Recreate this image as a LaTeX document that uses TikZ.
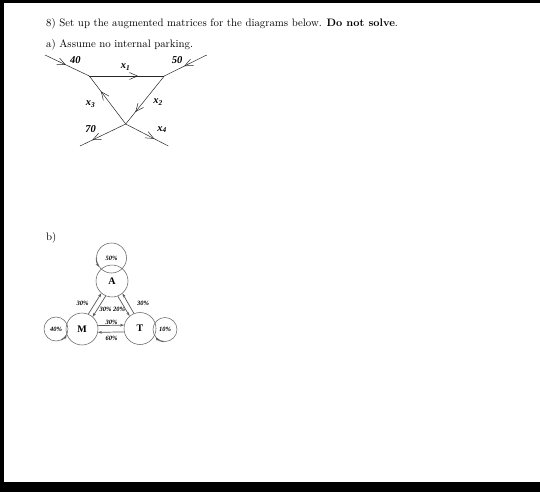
\documentclass[tikz,border=0pt]{standalone}
\usepackage{fontspec}
\newfontfamily\tms{Liberation Serif}
\usetikzlibrary{arrows.meta,decorations.markings}
\begin{document}
\begin{tikzpicture}[x=1pt,y=-1pt,
  midarr/.style={postaction={decorate},decoration={markings,mark=at position #1 with {\arrow{Straight Barb[length=8pt,width=7pt,line width=0.5pt]}}}},
  flow/.style={line width=0.5pt,draw=black!85},
  lbl/.style={font=\tms\bfseries\itshape\fontsize{10.5}{12}\selectfont,inner sep=0pt},
  pct/.style={font=\tms\bfseries\itshape\fontsize{6.5}{7}\selectfont,inner sep=0pt},
  state/.style={circle,draw=black!60,line width=0.55pt,minimum size=32pt,inner sep=0pt,font=\tms\bfseries\fontsize{10}{12}\selectfont},
  loopc/.style={circle,draw=black!60,line width=0.55pt,inner sep=0pt,font=\tms\bfseries\itshape\fontsize{6.5}{7}\selectfont},
  barr/.style={draw=black!65,line width=0.7pt,-{Stealth[length=4pt,width=2.8pt]}}]
\useasboundingbox (0,0) rectangle (540,492);
\fill[white] (0,0) rectangle (540,492);
\fill[black] (0,0) rectangle (540,3);
\fill[black] (0,0) rectangle (4,492);
\fill[black] (0,482) rectangle (540,492);
% texts
\node[anchor=base west,inner sep=0pt,font=\fontsize{10.8}{12}\selectfont] (title) at (46,26.5) {8) Set up the augmented matrices for the diagrams below. \textbf{Do not solve}.};
\node[anchor=base west,inner sep=0pt,font=\fontsize{10.8}{12}\selectfont] (parta) at (46,48) {a) Assume no internal parking.};
\node[anchor=base west,inner sep=0pt,font=\fontsize{10.8}{12}\selectfont] (partb) at (46,240) {b)};
% diagram a
\coordinate (L) at (89.3,76);
\coordinate (R) at (164.3,76);
\coordinate (B) at (125.7,124);
\coordinate (i40) at (45,55);
\coordinate (i50) at (206.7,55);
\coordinate (o70) at (80,146);
\coordinate (o4) at (168.3,146);
\draw[flow,midarr=0.47] (i40) -- (L);
\draw[flow,midarr=0.53] (i50) -- (R);
\draw[flow,midarr=0.65] (L) -- (R);
\draw[flow,midarr=0.75] (R) -- (B);
\draw[flow,midarr=0.68] (B) -- (L);
\draw[flow,midarr=0.73] (B) -- (o70);
\draw[flow,midarr=0.67] (B) -- (o4);
\node[lbl] (t40) at (75.3,60.3) {40};
\node[lbl] (t50) at (177,59.7) {50};
\node[lbl] (tx1) at (125.5,67) {x\textsubscript{1}};
\node[lbl] (tx3) at (90.5,104) {x\textsubscript{3}};
\node[lbl] (tx2) at (158,102) {x\textsubscript{2}};
\node[lbl] (t70) at (90.5,129.3) {70};
\node[lbl] (tx4) at (162,129.7) {x\textsubscript{4}};
% diagram b
\node[state] (A) at (112,281) {A};
\node[state] (M) at (82,329) {M};
\node[state] (T) at (140,328.5) {T};
\node[loopc,minimum size=30pt] (lA) at (111.5,258) {50\%};
\node[loopc,minimum size=24pt] (lM) at (56,329) {40\%};
\node[loopc,minimum size=24pt] (lT) at (165,329.5) {10\%};
\draw[barr] (M.67) -- (A.229);
\draw[barr] (A.247) -- (M.49);
\draw[barr] (T.112) -- (A.310);
\draw[barr] (A.291) -- (T.130);
\draw[barr] (M.12) -- (T.168);
\draw[barr] (T.192) -- (M.-12);
\draw[barr] (lA.180) to[out=270,in=125] (lA.215);
\draw[barr] (lM.-65) to[out=25,in=240] (lM.-30);
\draw[barr] (lT.265) to[out=175,in=310] (lT.220);
\node[pct] (p1) at (82.5,303.7) {30\%};
\node[pct] (p2) at (105.5,309) {30\%};
\node[pct] (p3) at (119.2,309) {20\%};
\node[pct] (p4) at (143,303) {30\%};
\node[pct] (p5) at (111.7,322) {30\%};
\node[pct] (p6) at (111.7,338) {60\%};
\end{tikzpicture}
\end{document}
